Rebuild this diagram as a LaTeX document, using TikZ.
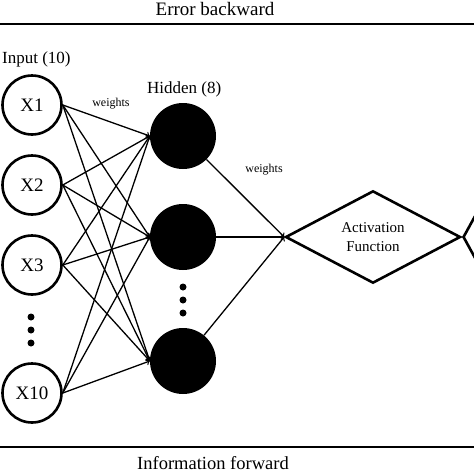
\documentclass[tikz,border=0pt]{standalone}
\usepackage{fontspec}
\setmainfont{Liberation Serif}
\usetikzlibrary{shapes.geometric}
\begin{document}
\begin{tikzpicture}[x=1pt,y=-1pt,
    inp/.style={circle,draw,line width=2.6pt,minimum size=59pt,inner sep=0pt,font=\fontsize{19}{22}\selectfont},
    hid/.style={circle,fill=black,minimum size=66pt,inner sep=0pt},
    wire/.style={->,line width=1.3pt},
    lbl/.style={font=\fontsize{17}{20}\selectfont,inner sep=0pt},
    wlbl/.style={font=\fontsize{12}{14}\selectfont,inner sep=0pt},
    decision/.style={diamond,draw,line width=2.6pt,inner sep=0pt,align=center}]
  \useasboundingbox (0,0) rectangle (474,474);
  % top and bottom rules
  \draw[line width=1.5pt] (0,24) -- (474,24);
  \draw[line width=1.5pt] (0,447) -- (474,447);
  \node[font=\fontsize{19}{22}\selectfont,inner sep=0pt,anchor=base] (err) at (215,15) {Error backward};
  \node[font=\fontsize{18.5}{22}\selectfont,inner sep=0pt,anchor=base] (info) at (213,469) {Information forward};
  % input layer
  \node[lbl,anchor=base west] (inlbl) at (2,63) {Input (10)};
  \node[inp] (x1) at (32,105) {X1};
  \node[inp] (x2) at (32,185) {X2};
  \node[inp] (x3) at (32,265) {X3};
  \node[inp] (x10) at (32,393) {X10};
  \fill (31,317) circle (3.5pt) (31,330) circle (3.5pt) (31,343) circle (3.5pt);
  % hidden layer
  \node[lbl,anchor=base west] (hidlbl) at (147,93) {Hidden (8)};
  \node[hid] (h1) at (183,136) {};
  \node[hid] (h2) at (183,237) {};
  \node[hid] (h3) at (183,361) {};
  \fill (183,287) circle (3.5pt) (183,300) circle (3.5pt) (183,313) circle (3.5pt);
  % activation
  \node[decision,minimum width=175pt,minimum height=72pt,font=\fontsize{15}{19}\selectfont] (act) at (373,237) {Activation\\Function};
  \node[decision,minimum width=50pt,minimum height=90pt] (out) at (488,237) {};
  % connections
  \foreach \i in {x1,x2,x3,x10}
    \foreach \j in {h1,h2,h3}
      \draw[wire] (\i.east) -- (\j.west);
  \foreach \j in {h1,h2,h3}
    \draw[wire] (\j) -- (act.west);
  \node[wlbl] (w1) at (111,104) {weights};
  \node[wlbl] (w2) at (264,170) {weights};
\end{tikzpicture}
\end{document}
